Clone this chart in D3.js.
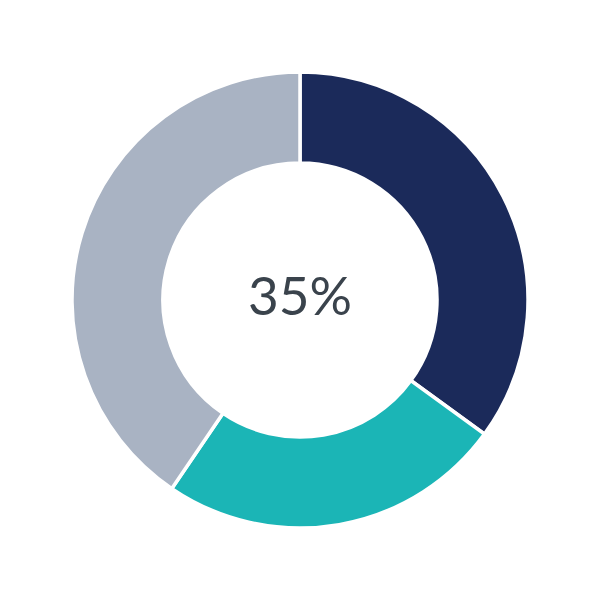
<!DOCTYPE html>
<html>
<head>
<meta charset="utf-8">
<script src="https://cdn.jsdelivr.net/npm/d3@7"></script>
<style>
  html, body { margin: 0; padding: 0; background: #fff; }
</style>
</head>
<body>
<div id="viz"></div>
<script>

var categories = ["A", "B", "C"];
var values = [35, 24.5, 40.5];
var colors = ["#1b2a5a", "#1bb5b6", "#a9b3c3"];
var centerLabel = "35%";

var svg = d3.select("#viz")
    .append("svg")
    .attr("width", 600)
    .attr("height", 600);

var g = svg.append("g")
    .attr("transform", "translate(300,300)");

var pie = d3.pie()
    .sort(null)
    .value(function(d){ return d; });

var arc = d3.arc()
    .innerRadius(137)
    .outerRadius(228);

var color = d3.scaleOrdinal()
    .domain(categories)
    .range(colors);

g.selectAll("path")
    .data(pie(values))
    .enter()
    .append("path")
    .attr("d", arc)
    .style("fill", function(d, i){ return color(categories[i]); })
    .style("stroke", "#fff")
    .style("stroke-width", 3.5);

g.append("text")
    .attr("text-anchor", "middle")
    .attr("y", 15)
    .style("font-family", "Lato, sans-serif")
    .style("font-size", "53px")
    .style("fill", "#3a434c")
    .text(centerLabel);

</script>
</body>
</html>
